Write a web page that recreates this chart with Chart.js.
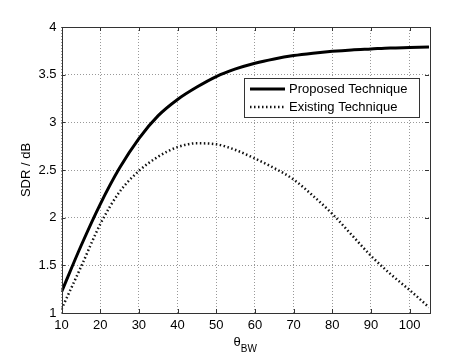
<!DOCTYPE html>
<html>
<head>
<meta charset="utf-8">
<script src="https://cdn.jsdelivr.net/npm/chart.js@4/dist/chart.umd.min.js"></script>
<style>
html,body{margin:0;padding:0;background:#fff;}
#wrap{width:474px;height:355px;}
</style>
</head>
<body>
<div id="wrap"><canvas id="c" width="474" height="355"></canvas></div>
<script>
const theta = [10,15,20,25,30,35,40,45,50,55,60,65,70,75,80,85,90,95,100,105];
const proposed = [1.22,1.70,2.14,2.52,2.83,3.07,3.24,3.37,3.48,3.56,3.62,3.665,3.70,3.725,3.745,3.76,3.77,3.78,3.785,3.79];
const existing = [1.04,1.48,1.93,2.27,2.49,2.64,2.74,2.78,2.77,2.71,2.62,2.52,2.40,2.23,2.04,1.82,1.60,1.41,1.24,1.06];
const seriesNames = ['Proposed Technique','Existing Technique'];
const yTitle = 'SDR / dB';
const xTitleMain = 'θ';
const xTitleSub = 'BW';

const FONT = '"Liberation Sans", Arial, sans-serif';

const framePlugin = {
  id: 'frame',
  afterDraw(chart) {
    const ctx = chart.ctx, a = chart.chartArea;
    const xs = chart.scales.x, ys = chart.scales.y;
    ctx.save();
    ctx.strokeStyle = '#333';
    ctx.lineWidth = 1;
    ctx.setLineDash([]);
    ctx.strokeRect(Math.round(a.left)+0.5, Math.round(a.top)+0.5, Math.round(a.right-a.left), Math.round(a.bottom-a.top));
    // inward tick marks
    ctx.beginPath();
    xs.ticks.forEach(t => {
      const px = Math.round(xs.getPixelForValue(t.value)) + 0.5;
      ctx.moveTo(px, a.bottom); ctx.lineTo(px, a.bottom - 4);
      ctx.moveTo(px, a.top); ctx.lineTo(px, a.top + 4);
    });
    ys.ticks.forEach(t => {
      const py = Math.round(ys.getPixelForValue(t.value)) + 0.5;
      ctx.moveTo(a.left, py); ctx.lineTo(a.left + 4, py);
      ctx.moveTo(a.right, py); ctx.lineTo(a.right - 4, py);
    });
    ctx.stroke();

    // x title with subscript
    ctx.fillStyle = '#000';
    ctx.textBaseline = 'alphabetic';
    ctx.font = '13px ' + FONT;
    const w1 = ctx.measureText(xTitleMain).width;
    ctx.font = '10px ' + FONT;
    const w2 = ctx.measureText(xTitleSub).width;
    const cx = (a.left + a.right) / 2;
    let sx = cx - (w1 + w2) / 2;
    ctx.font = '13px ' + FONT;
    ctx.fillText(xTitleMain, sx, 346);
    ctx.font = '10px ' + FONT;
    ctx.fillText(xTitleSub, sx + w1, 352);

    // y title
    ctx.save();
    ctx.translate(26, (a.top + a.bottom) / 2);
    ctx.rotate(-Math.PI / 2);
    ctx.font = '13px ' + FONT;
    ctx.textAlign = 'center';
    ctx.textBaseline = 'middle';
    ctx.fillText(yTitle, 0, 0);
    ctx.restore();

    // legend box
    const lx = 244, ly = 78, lw = 175, lh = 39;
    ctx.fillStyle = '#fff';
    ctx.fillRect(lx, ly, lw, lh);
    ctx.strokeStyle = '#333';
    ctx.strokeRect(lx + 0.5, ly + 0.5, lw, lh);
    const ds = chart.data.datasets;
    const rows = [89, 107];
    ds.forEach((d, i) => {
      ctx.beginPath();
      ctx.strokeStyle = d.borderColor;
      ctx.lineWidth = d.borderWidth;
      ctx.setLineDash(d.borderDash || []);
      ctx.moveTo(250, rows[i]); ctx.lineTo(285, rows[i]);
      ctx.stroke();
      ctx.setLineDash([]);
      ctx.fillStyle = '#000';
      ctx.font = '13px ' + FONT;
      ctx.textAlign = 'left';
      ctx.textBaseline = 'middle';
      ctx.fillText(d.label, 289, rows[i] + 0.5);
    });
    ctx.restore();
  }
};

new Chart(document.getElementById('c'), {
  type: 'line',
  data: {
    datasets: [
      {
        label: seriesNames[0],
        data: theta.map((t, i) => ({x: t, y: proposed[i]})),
        borderColor: '#000',
        borderWidth: 3,
        pointRadius: 0,
        cubicInterpolationMode: 'monotone',
        fill: false
      },
      {
        label: seriesNames[1],
        data: theta.map((t, i) => ({x: t, y: existing[i]})),
        borderColor: '#111',
        borderWidth: 2.5,
        borderDash: [1.5, 2.5],
        pointRadius: 0,
        cubicInterpolationMode: 'monotone',
        fill: false
      }
    ]
  },
  options: {
    responsive: false,
    animation: false,
    devicePixelRatio: 1,
    layout: { padding: { left: 0, top: 27, right: 45, bottom: 0 } },
    plugins: { legend: { display: false }, tooltip: { enabled: false } },
    scales: {
      x: {
        type: 'linear',
        min: 10, max: 105,
        afterFit(s) { s.height = 42; },
        border: { display: false, dash: [1, 2] },
        grid: { color: '#999', lineWidth: 1, drawTicks: false },
        ticks: { stepSize: 10, includeBounds: false, color: '#000', padding: 5, maxRotation: 0,
                 font: { family: FONT, size: 13 } }
      },
      y: {
        min: 1, max: 4,
        afterFit(s) { s.width = 61.5; },
        border: { display: false, dash: [1, 2] },
        grid: { color: '#999', lineWidth: 1, drawTicks: false },
        ticks: { stepSize: 0.5, color: '#000', padding: 5,
                 callback: v => String(Math.round(v * 10) / 10),
                 font: { family: FONT, size: 13 } }
      }
    }
  },
  plugins: [framePlugin]
});
</script>
</body>
</html>
